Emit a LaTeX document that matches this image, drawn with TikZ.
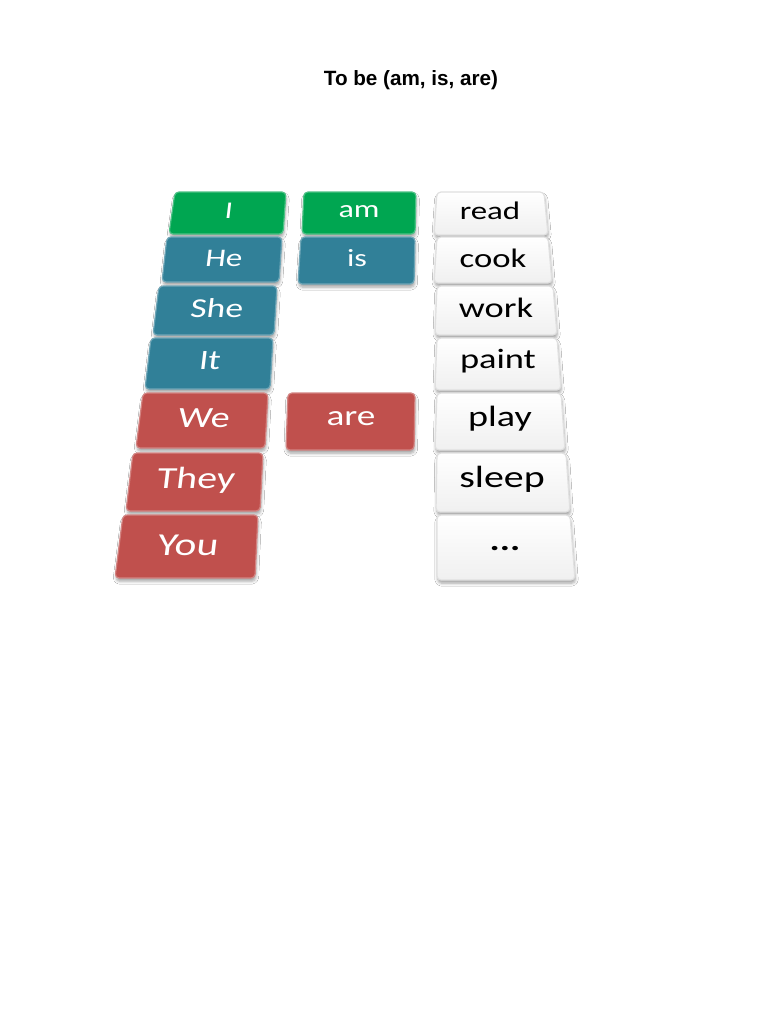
\documentclass[tikz,border=0pt]{standalone}
\usepackage{fontspec}
\setmainfont{Liberation Sans}
\newfontfamily\tilefont[FakeStretch=1.3]{Carlito}
\newfontfamily\slantfont[FakeStretch=1.3,FakeSlant=0.12]{Carlito}
\usepackage{tikz}
\usetikzlibrary{shadows.blur}

\definecolor{tilegreen}{RGB}{0,166,81}
\definecolor{tileteal}{RGB}{49,128,152}
\definecolor{tilered}{RGB}{192,80,77}

\tikzset{
  tile/.style={rounded corners=3, line width=0.9, blur shadow={shadow xshift=0.5pt, shadow yshift=-2.5pt, shadow blur steps=4, shadow opacity=35}},
  greentile/.style={tile, fill=tilegreen, draw=tilegreen!70!white},
  tealtile/.style={tile, fill=tileteal, draw=tileteal!70!white},
  redtile/.style={tile, fill=tilered, draw=tilered!70!white},
  whitetile/.style={tile, top color=white, bottom color=black!6, draw=black!12},
  word/.style={inner sep=0pt, anchor=center},
  pron/.style={word, text=white},
  verb/.style={word, text=white},
  action/.style={word, text=black}
}

\begin{document}
\begin{tikzpicture}[x=0.75pt,y=0.75pt,yscale=-1,xscale=1]
\useasboundingbox [fill=white] (0,0) rectangle (768,1024);

% title
\node [inner sep=0.75pt, font=\bfseries\fontsize{15.5}{18}\selectfont] (title) at (411,80) {To be (am, is, are)};

% pronouns
\draw [greentile] (175,192) -- (286,192) -- (283,234) -- (169,234) -- cycle ;
\draw [tealtile] (167,237) -- (282,237) -- (279,282) -- (162,282) -- cycle ;
\draw [tealtile] (159,286) -- (277,286) -- (274,335) -- (153,335) -- cycle ;
\draw [tealtile] (151,338) -- (273,338) -- (270,389) -- (145,389) -- cycle ;
\draw [redtile] (143,393) -- (268,393) -- (265,448) -- (136,448) -- cycle ;
\draw [redtile] (133,453) -- (263,453) -- (260,511) -- (126,511) -- cycle ;
\draw [redtile] (123,515) -- (258,515) -- (255,578) -- (115,578) -- cycle ;

\node [pron, font=\slantfont\fontsize{18}{18}\selectfont] (i) at (228,211) {I};
\node [pron, font=\slantfont\fontsize{19}{19}\selectfont] (he) at (223,258) {He};
\node [pron, font=\slantfont\fontsize{20.5}{20.5}\selectfont] (she) at (216,308) {She};
\node [pron, font=\slantfont\fontsize{21}{21}\selectfont] (it) at (209,361) {It};
\node [pron, font=\slantfont\fontsize{22}{22}\selectfont] (we) at (203,418) {We};
\node [pron, font=\slantfont\fontsize{23}{23}\selectfont] (they) at (195,480) {They};
\node [pron, font=\slantfont\fontsize{24}{24}\selectfont] (you) at (187,545) {You};

% to be
\draw [greentile] (304,192) -- (416,192) -- (415,234) -- (302,234) -- cycle ;
\draw [tealtile] (301,237) -- (415,237) -- (414,284) -- (298,284) -- cycle ;
\draw [redtile] (288,393) -- (415,393) -- (414,450) -- (286,450) -- cycle ;

\node [verb, font=\tilefont\fontsize{18.5}{18.5}\selectfont] (am) at (359,212) {am};
\node [verb, font=\tilefont\fontsize{18.5}{18.5}\selectfont] (is) at (357,258) {is};
\node [verb, font=\tilefont\fontsize{21.5}{21.5}\selectfont] (are) at (351,419) {are};

% actions
\draw [whitetile] (437,192) -- (544,192) -- (548,235) -- (434,235) -- cycle ;
\draw [whitetile] (437,237) -- (548,237) -- (552,283) -- (434,283) -- cycle ;
\draw [whitetile] (437,286) -- (553,286) -- (557,335) -- (435,335) -- cycle ;
\draw [whitetile] (437,338) -- (557,338) -- (561,390) -- (435,390) -- cycle ;
\draw [whitetile] (437,393) -- (561,393) -- (565,450) -- (435,450) -- cycle ;
\draw [whitetile] (437,453) -- (566,453) -- (570,512) -- (436,512) -- cycle ;
\draw [whitetile] (437,515) -- (570,515) -- (575,580) -- (437,580) -- cycle ;

\node [action, font=\tilefont\fontsize{19}{19}\selectfont] (read) at (490,211) {read};
\node [action, font=\tilefont\fontsize{20}{20}\selectfont] (cook) at (493,258) {cook};
\node [action, font=\tilefont\fontsize{21}{21}\selectfont] (work) at (496,308) {work};
\node [action, font=\tilefont\fontsize{21}{21}\selectfont] (paint) at (498,361) {paint};
\node [action, font=\tilefont\fontsize{22}{22}\selectfont] (play) at (500,419) {play};
\node [action, font=\tilefont\fontsize{23}{23}\selectfont] (sleep) at (502,479) {sleep};
\node [action, font=\tilefont\bfseries\fontsize{22}{22}\selectfont] (more) at (505,549) {...};
\end{tikzpicture}
\end{document}
